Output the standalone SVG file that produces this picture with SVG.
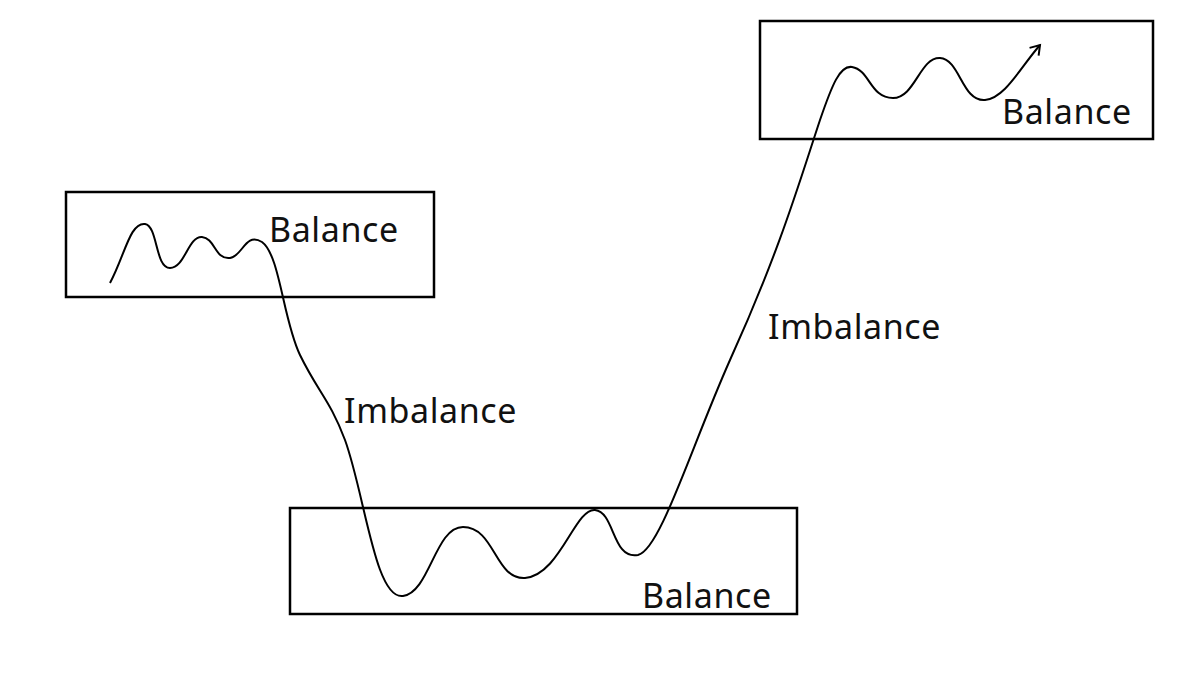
<svg xmlns="http://www.w3.org/2000/svg" width="1200" height="675" viewBox="0 0 1200 675">
<style>
.box{fill:none;stroke:#000;stroke-width:2.5}
.lbl{font-family:"Noto Sans","Open Sans",sans-serif;font-size:34px;letter-spacing:0.6px;fill:#111}
.ln{fill:none;stroke:#000;stroke-width:2}
</style>
<defs><marker id="ah" markerWidth="14" markerHeight="14" refX="10" refY="7" orient="auto" markerUnits="userSpaceOnUse"><path d="M1,1 L10,7 L1,13" class="ln"/></marker></defs>
<rect width="1200" height="675" fill="#fff"/>
<g id="node-balance-1"><rect class="box" x="66" y="192" width="368" height="105"/><text class="lbl" x="269" y="242">Balance</text></g>
<g id="node-balance-2"><rect class="box" x="290" y="508" width="507" height="106"/><text class="lbl" x="642" y="608">Balance</text></g>
<g id="node-balance-3"><rect class="box" x="760" y="21" width="393" height="118"/><text class="lbl" x="1002" y="124">Balance</text></g>
<g id="labels"><text class="lbl" x="344" y="423">Imbalance</text><text class="lbl" x="768" y="339">Imbalance</text></g>
<g id="connectors">
<path class="ln" marker-end="url(#ah)" d="M110,283 C125,255 130,222 145,224 C158,226 155,268 170,268 C185,268 188,236 202,237 C215,238 215,260 230,258 C243,256 245,232 262,242 C280,255 283,320 300,355 C318,392 330,400 345,440 C365,495 375,600 403,596 C430,592 435,527 463,527 C495,527 495,580 525,578 C560,575 575,508 595,510 C615,512 612,560 638,555 C660,550 690,450 730,360 C780,250 800,180 820,120 C832,85 840,65 852,67 C870,70 870,98 893,98 C915,98 920,57 940,58 C960,59 962,102 985,100 C1005,98 1020,68 1040,45"/>
</g>
</svg>
